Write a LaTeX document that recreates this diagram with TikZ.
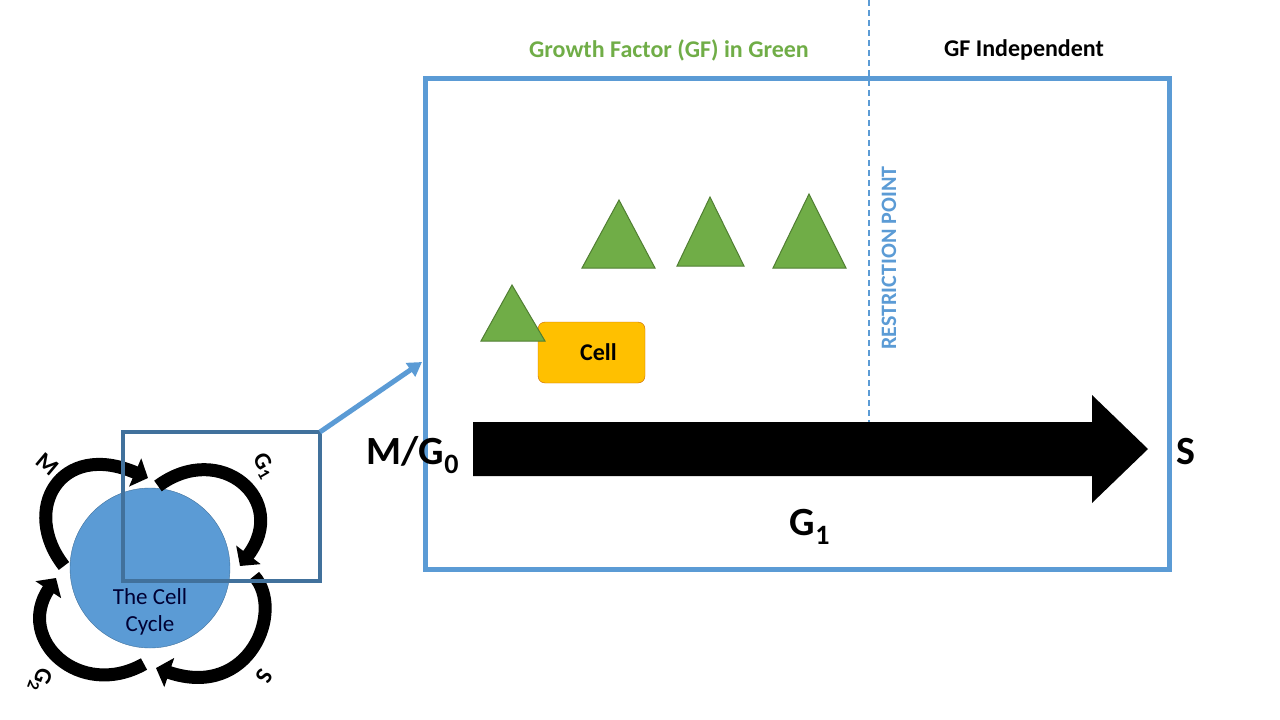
\documentclass[tikz,border=0pt]{standalone}
\usepackage{fontspec}
\setmainfont{Carlito}
\usetikzlibrary{arrows.meta}
\definecolor{bl}{HTML}{5B9BD5}
\definecolor{dbl}{HTML}{41719C}
\definecolor{gr}{HTML}{70AD47}
\definecolor{gre}{HTML}{507E32}
\definecolor{org}{HTML}{FFC000}
\begin{document}
\begin{tikzpicture}[x=1pt,y=-1pt,
 cyc/.style={line width=13pt,-{Triangle[length=14pt,width=30pt]}},
 tri/.style={fill=gr,draw=gre,line width=1pt},
 lab/.style={font=\fontsize{24}{26}\selectfont}]
\useasboundingbox (0,0) rectangle (1280,720);
% cell cycle
\node[circle,fill=bl,draw=dbl,minimum size=160pt,inner sep=0] (cc) at (150,568) {};
\node[font=\fontsize{23}{27}\selectfont,align=center,text=black!80!blue] (cct) at (150,612) {The Cell\\Cycle};
\coordinate (m0) at (64,566); \coordinate (m1) at (148,478);
\coordinate (g0) at (158,486); \coordinate (g1) at (240,566);
\coordinate (s0) at (254,576); \coordinate (s1) at (156,668);
\coordinate (h0) at (144,664); \coordinate (h1) at (56,578);
\draw[cyc] (m0) .. controls (20,510) and (60,440) .. (m1);
\draw[cyc] (g0) .. controls (220,440) and (290,500) .. (g1);
\draw[cyc] (s0) .. controls (285,610) and (250,700) .. (s1);
\draw[cyc] (h0) .. controls (80,700) and (15,640) .. (h1);
\node[lab,rotate=-40] (lm) at (48,464) {\textbf{M}};
\node[lab,rotate=-60] (lg1) at (264,466) {\textbf{G\textsubscript{1}}};
\node[lab,rotate=-120] (ls) at (264,676) {\textbf{S}};
\node[lab,rotate=-110] (lg2) at (40,680) {\textbf{G\textsubscript{2}}};
\draw[dbl,line width=3.5pt] (123,432) rectangle (320,581);
\coordinate (zc) at (320,432);
% big box
\draw[bl,line width=5pt] (425,78) rectangle (1169,569);
\coordinate (bx) at (422,362);
\draw[bl,line width=5pt,-{Triangle[length=14pt,width=16pt]}] (zc) -- (bx);
\draw[bl,dash pattern=on 6pt off 4pt,line width=1.2pt] (869,0) -- (869,425);
\node[text=bl,rotate=90,font=\bfseries\fontsize{22}{24}\selectfont] (rp) at (889,258) {RESTRICTION POINT};
\node[text=gr,font=\bfseries\fontsize{24}{26}\selectfont] (t1) at (669,50) {Growth Factor (GF) in Green};
\node[font=\bfseries\fontsize{24}{26}\selectfont] (t2) at (1024,50) {GF Independent};
\draw[tri] (582,268) -- (619,200) -- (655,268) -- cycle;
\draw[tri] (677,266) -- (710,197) -- (744,266) -- cycle;
\draw[tri] (773,268) -- (809,194) -- (846,268) -- cycle;
\node[fill=org,draw=orange!80!black,rounded corners=7pt,minimum width=107pt,minimum height=61pt,font=\bfseries\fontsize{24}{26}\selectfont] (cell) at (591.5,352.5) {\hspace{14pt}Cell};
\draw[tri] (481,341) -- (512,285) -- (545,341) -- cycle;
\fill (473,422) -- (1092,422) -- (1092,395) -- (1148,449) -- (1092,503) -- (1092,476) -- (473,476) -- cycle;
\node[font=\bfseries\fontsize{40}{42}\selectfont] (mg) at (413,455) {M/G\textsubscript{0}};
\node[font=\bfseries\fontsize{40}{42}\selectfont] (s) at (1186,452) {S};
\node[font=\bfseries\fontsize{40}{42}\selectfont] (g1) at (810,527) {G\textsubscript{1}};
\end{tikzpicture}
\end{document}
